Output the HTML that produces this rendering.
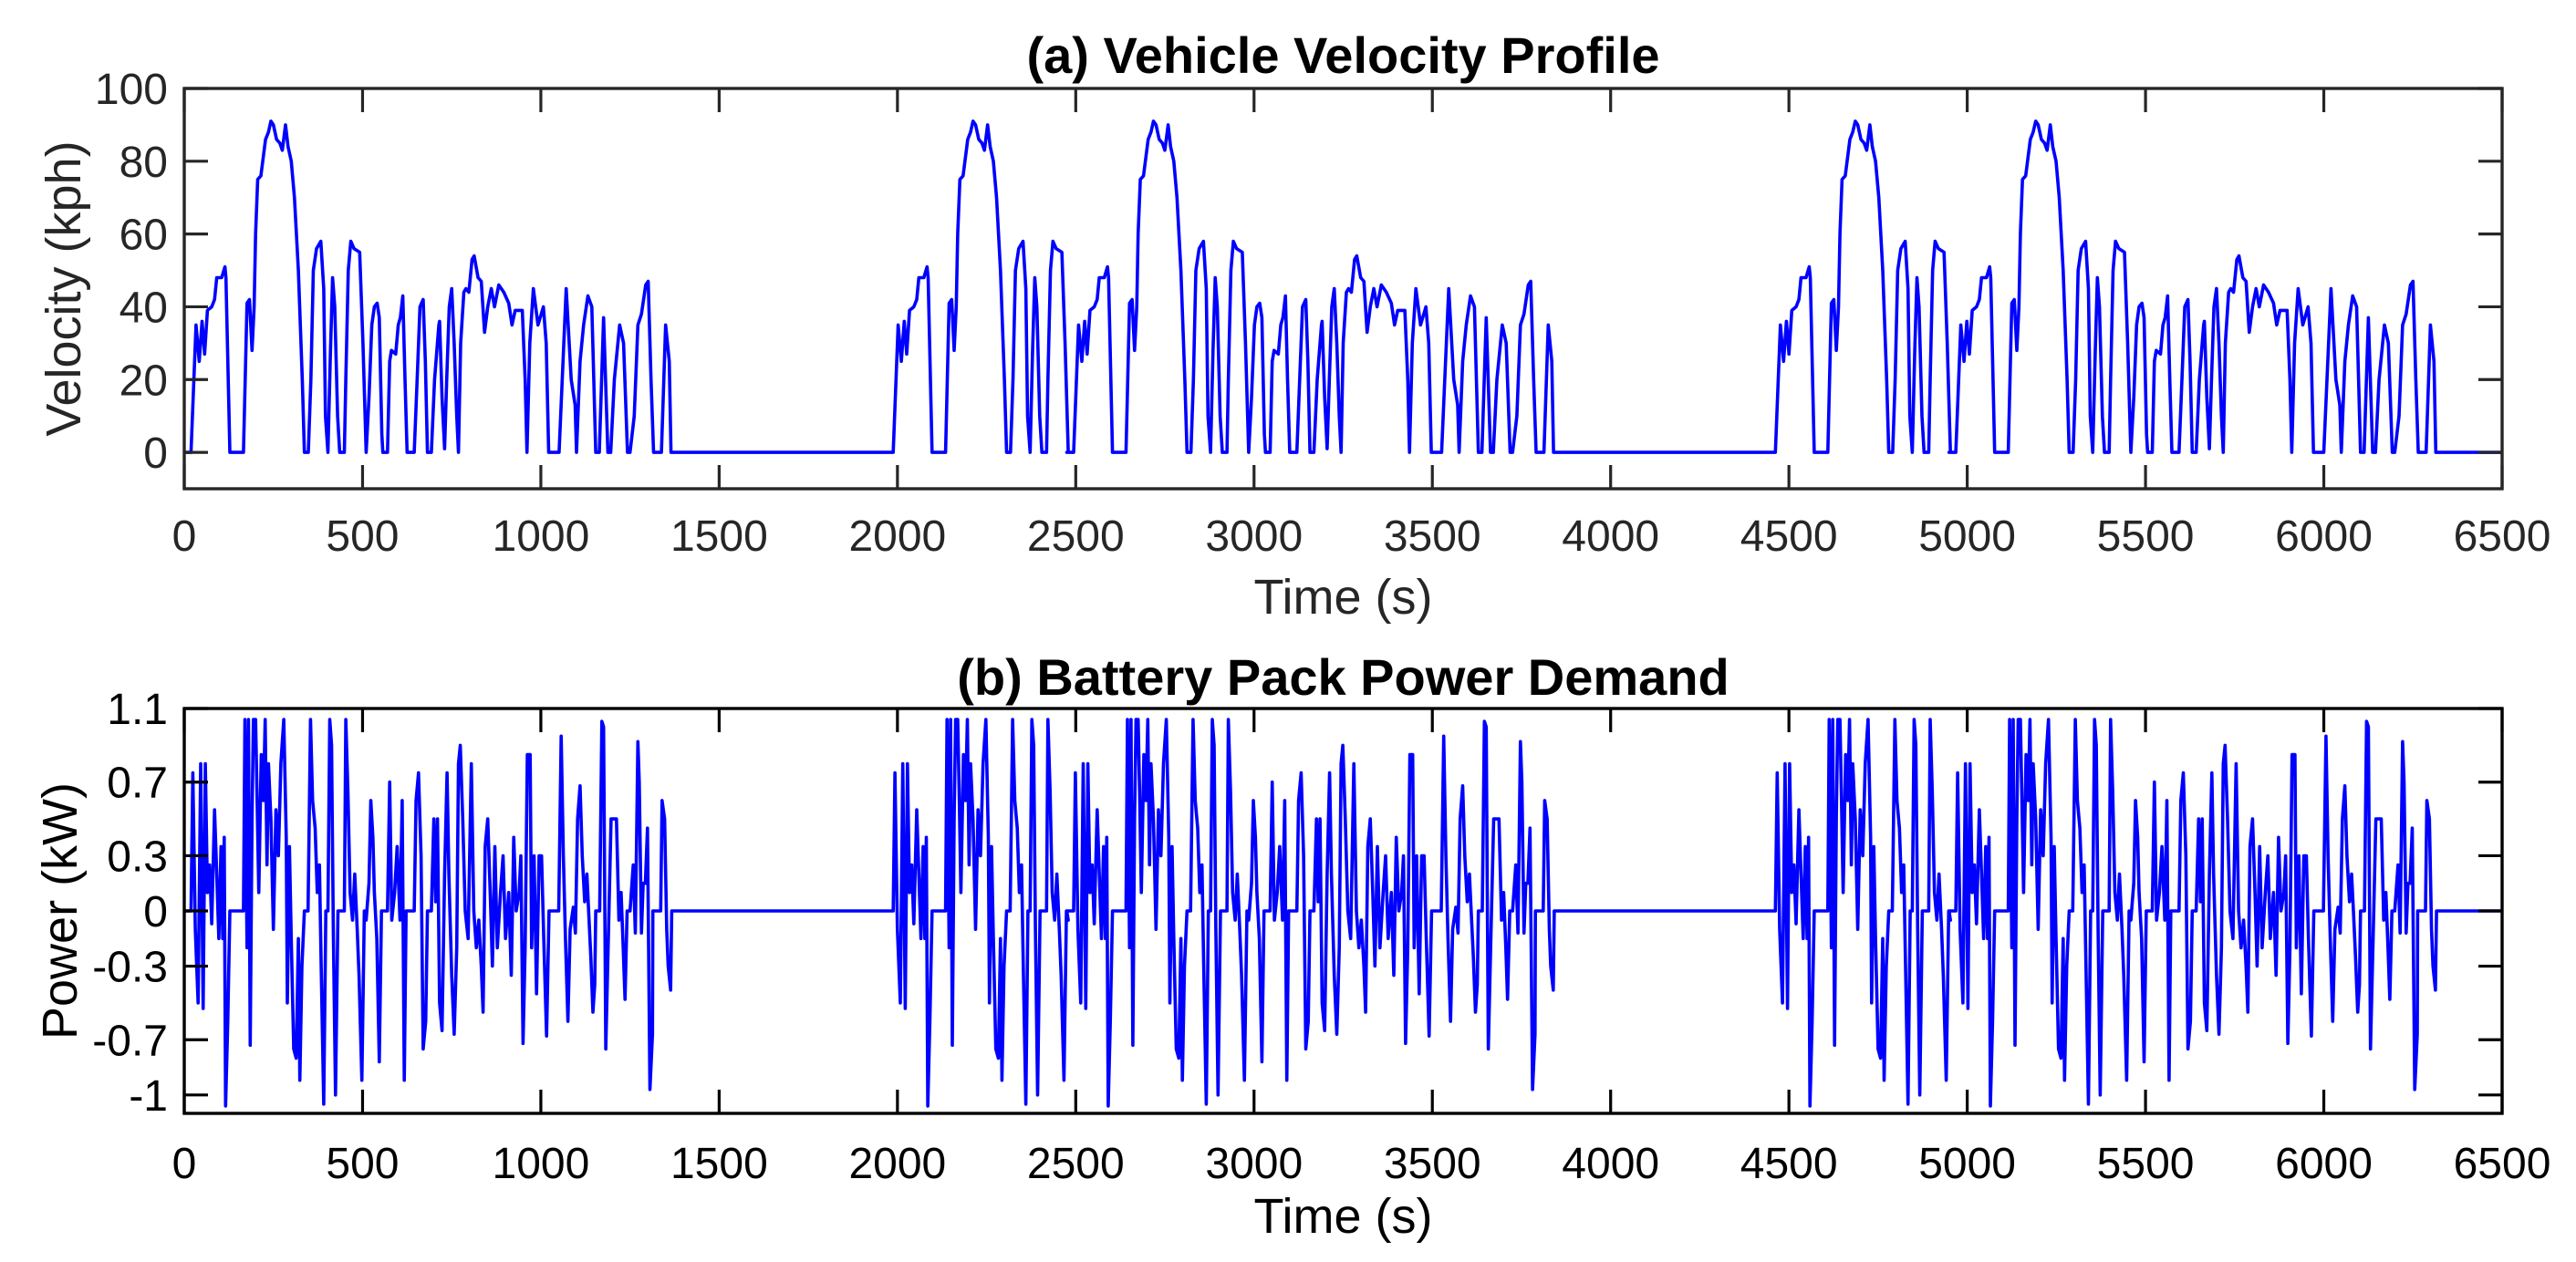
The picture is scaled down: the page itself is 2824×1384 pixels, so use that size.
<!DOCTYPE html>
<html><head><meta charset="utf-8"><style>
html,body{margin:0;padding:0;background:#fff;}
svg{display:block;}
text{font-family:"Liberation Sans",Arial,sans-serif;}
</style></head><body>
<svg id="fig" width="2824" height="1384" viewBox="0 0 2824 1384" xmlns="http://www.w3.org/2000/svg">
<rect width="2824" height="1384" fill="#fff"/>
<g id="top"></g>
<g id="bot"></g>
</svg>
<script>
// base drive cycle velocity (time s, kph)
const velT = [0,19,33,42,50,57,65,77,85,91,105,114,117,128,166,176,183,190,196,200,206,215,228,236,243,250,259,268,275,284,291,300,309,320,331,337,348,355,362,371,383,391,396,403,410,416,422,430,436,449,453,460,467,476,492,501,510,518,526,533,541,547,554,557,570,576,581,593,600,606,613,619,625,645,653,661,670,676,682,693,702,714,716,723,730,736,743,750,757,764,769,775,784,790,798,807,813,824,833,842,851,861,870,882,896,910,919,928,948,956,961,969,979,992,1007,1015,1022,1051,1071,1085,1096,1100,1110,1120,1132,1143,1154,1164,1176,1188,1196,1206,1221,1232,1243,1250,1262,1272,1282,1294,1301,1309,1316,1338,1350,1360,1365,1370];
const velV = [0,0,35,25,36,27,39,40,42,48,48,51,48,0,0,41,42,28,40,60,75,76,86,88,91,90,86,85,83,90,84,80,70,50,20,0,0,20,50,56,58,45,10,0,28,48,40,10,0,0,20,50,58,56,55,30,0,15,35,40,41,37,5,0,0,25,28,27,35,37,43,20,0,0,20,40,42,25,0,0,20,35,36,15,1,20,40,45,30,10,0,30,44,45,44,53,54,48,47,33,40,45,40,46,44,41,35,39,39,20,0,30,45,35,40,30,0,0,45,20,13,0,25,35,43,40,0,0,37,0,0,20,35,30,0,0,10,35,38,46,47,20,0,0,35,25,0,0];
// base drive cycle battery power (time s, kW)
const powT = [0,19,24,31,39,46,53,59,65,71,77,85,91,97,103,108,112,116,122,128,166,170,176,180,185,190,194,200,204,209,216,222,227,232,236,243,250,257,264,271,279,286,289,295,300,307,314,320,324,330,337,347,354,360,367,373,379,384,391,397,403,408,413,418,424,431,449,453,459,465,472,478,485,490,498,505,510,518,523,529,533,540,547,553,570,576,582,590,597,605,611,617,622,645,650,657,664,670,677,682,693,700,705,710,716,723,730,737,742,750,757,764,769,774,781,788,796,805,812,819,826,833,838,844,851,858,864,871,878,887,894,901,910,917,924,931,939,944,950,956,962,970,974,981,988,995,1002,1008,1016,1023,1050,1057,1063,1069,1076,1082,1091,1097,1103,1110,1116,1123,1129,1134,1140,1146,1151,1154,1165,1171,1176,1182,1191,1197,1205,1212,1219,1225,1231,1236,1242,1250,1259,1265,1272,1276,1282,1287,1293,1299,1306,1313,1314,1336,1340,1347,1353,1357,1364,1367,1370];
const powV = [0,0,0.75,-0.1,-0.5,0.8,-0.53,0.8,0.1,0.25,-0.07,0.55,0.2,-0.15,0.35,-0.15,0.4,-1.06,-0.6,0,0,1.04,-0.2,1.04,-0.73,0.5,1.04,1.04,0.65,0.1,0.85,0.6,1.04,0.25,0.8,0.5,-0.1,0.55,0.3,0.8,1.04,0.4,-0.5,0.35,-0.15,-0.75,-0.8,-0.15,-0.92,-0.3,0,0,1.04,0.6,0.45,0.1,0.25,-0.3,-1.05,0,0,1.04,0.9,-0.1,-1.0,0,0,1.04,0.65,0.1,-0.05,0.2,-0.1,-0.35,-0.92,0,-0.05,0.15,0.6,0.4,0.1,-0.15,-0.82,0,0,0.7,-0.05,0.1,0.35,-0.05,0.6,-0.92,0,0,0.6,0.75,0.3,-0.75,-0.6,0,0,0.5,0.05,0.5,-0.5,-0.65,0.2,0.75,0.2,-0.35,-0.67,-0.2,0.8,0.9,0.5,0,-0.15,0.8,0,-0.2,-0.05,-0.3,-0.55,0.35,0.5,0.1,-0.3,0.35,-0.2,0.1,0.3,-0.15,0.1,-0.35,0.4,0,0.1,0.3,-0.72,-0.2,0.85,0.85,-0.2,0.3,-0.45,0.3,0.3,-0.15,-0.68,0,0,0.95,0.3,-0.15,-0.6,-0.1,0.02,-0.12,0.5,0.68,0.3,0.05,0.2,0,-0.25,-0.55,-0.4,0,0,1.03,1.0,-0.75,0,0.5,0.5,0.5,-0.05,0.1,-0.2,-0.48,0,0,0.25,-0.12,0.92,0.7,-0.12,0.15,0.15,0.45,-0.97,-0.67,0,0,0.6,0.5,-0.1,-0.3,-0.43,0,0];
// how the simulation repeats the cycle: [time offset, cycle start, cycle end]
const segOffsets = [0,1969,2475,4443,4949];
const segEnds = [1370,510,1370,510,1370];
const xTicks = [0,500,1000,1500,2000,2500,3000,3500,4000,4500,5000,5500,6000,6500];
const vTicks = [0,20,40,60,80,100];
const pTicks = [-1,-0.7,-0.3,0,0.3,0.7,1.1];

const NS = "http://www.w3.org/2000/svg";
function mk(parent, tag, attrs){ const e=document.createElementNS(NS,tag); for(const k in attrs) e.setAttribute(k,attrs[k]); parent.appendChild(e); return e; }

function buildSeries(T,V){
  const pts=[[0,0]];
  for(let s=0;s<segOffsets.length;s++){
    for(let i=0;i<T.length;i++){ if(T[i]<=segEnds[s]) pts.push([T[i]+segOffsets[s],V[i]]); }
  }
  pts.push([6500,0]);
  return pts;
}

function drawChart(g, cfg){
  const {L,R,T,B,ymin,ymax,yticks,pts,col,title,ylabel,titleY,xlabY,tickLabY,yLabX,tickFmt,pfx} = cfg;
  const sx = v => L + (v-0)/(6500-0)*(R-L);
  const sy = v => B - (v-ymin)/(ymax-ymin)*(B-T);
  const clip = mk(g,'clipPath',{id:pfx+'clip'});
  mk(clip,'rect',{x:L,y:T,width:R-L,height:B-T});
  const d = pts.map((p,i)=>(i?'L':'M')+sx(p[0]).toFixed(1)+' '+sy(p[1]).toFixed(1)).join(' ');
  const line = mk(g,'path',{d:d,fill:'none',stroke:'#0000ff','stroke-width':3.6,'stroke-linejoin':'round','clip-path':'url(#'+pfx+'clip)'});
  
  
  const tl=26;
  xTicks.forEach(v=>{
    const x=sx(v);
    const t1=mk(g,'line',{x1:x,y1:B,x2:x,y2:B-tl,stroke:col,'stroke-width':3.2});
    
    
    mk(g,'line',{x1:x,y1:T,x2:x,y2:T+tl,stroke:col,'stroke-width':3.2});
    const tx=mk(g,'text',{x:x,y:tickLabY,'text-anchor':'middle','font-size':48,fill:col});
    tx.textContent=v;
    
    
  });
  yticks.forEach(v=>{
    const y=sy(v);
    mk(g,'line',{x1:L,y1:y,x2:L+tl,y2:y,stroke:col,'stroke-width':3.2});
    mk(g,'line',{x1:R,y1:y,x2:R-tl,y2:y,stroke:col,'stroke-width':3.2});
    const tx=mk(g,'text',{x:L-18,y:y+17,'text-anchor':'end','font-size':48,fill:col});
    tx.textContent=tickFmt(v);
    
    
  });
  const box=mk(g,'rect',{x:L,y:T,width:R-L,height:B-T,fill:'none',stroke:col,'stroke-width':3.4});
  
  
  const tt=mk(g,'text',{x:(L+R)/2,y:titleY,'text-anchor':'middle','font-size':56,'font-weight':'bold',fill:'#000'});
  tt.textContent=title;
  
  
  const xl=mk(g,'text',{x:(L+R)/2,y:xlabY,'text-anchor':'middle','font-size':54,fill:col});
  xl.textContent='Time (s)';
  
  
  const cy=(T+B)/2;
  const yl=mk(g,'text',{x:yLabX,y:cy,'text-anchor':'middle','font-size':54,fill:col,transform:'rotate(-90 '+yLabX+' '+cy+')'});
  yl.textContent=ylabel;
  
  
}

drawChart(document.getElementById('top'),{L:202,R:2743,T:97,B:536,ymin:-10,ymax:100,yticks:vTicks,
  pts:buildSeries(velT,velV),col:'#262626',title:'(a) Vehicle Velocity Profile',ylabel:'Velocity (kph)',
  titleY:80,xlabY:673,tickLabY:604,yLabX:88,tickFmt:v=>String(v),pfx:'velocity'});
drawChart(document.getElementById('bot'),{L:202,R:2743,T:777,B:1221,ymin:-1.1,ymax:1.1,yticks:pTicks,
  pts:buildSeries(powT,powV),col:'#000',title:'(b) Battery Pack Power Demand',ylabel:'Power (kW)',
  titleY:762,xlabY:1352,tickLabY:1292,yLabX:84,tickFmt:v=>String(v),pfx:'power'});
</script>
</body></html>
